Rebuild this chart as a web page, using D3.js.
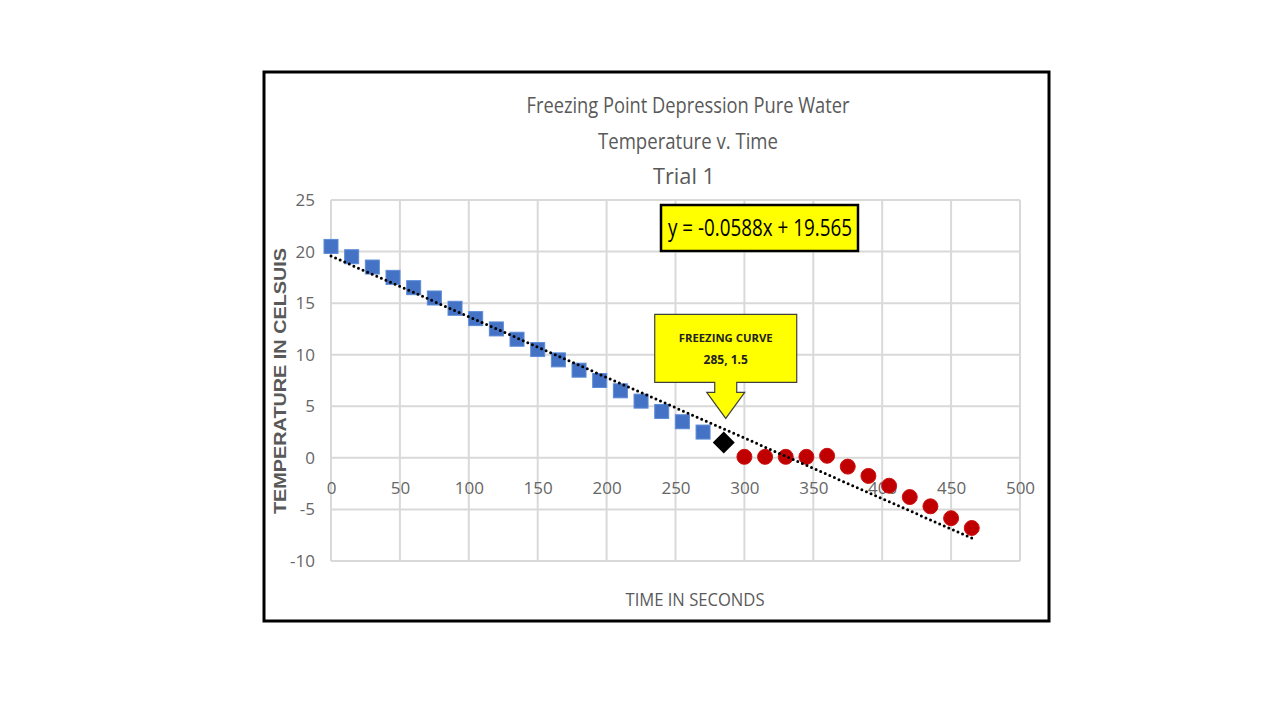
<!DOCTYPE html>
<html>
<head>
<meta charset="utf-8">
<script src="https://cdnjs.cloudflare.com/ajax/libs/d3/7.8.5/d3.min.js"></script>
<style>
  body { margin: 0; background: #fff; }
  svg { display: block; }
  .narrow { font-family: "Liberation Sans Narrow", "Open Sans", "DejaVu Sans Condensed", sans-serif; }
</style>
</head>
<body>
<div id="chart"></div>
<script>
// cooling data, one reading every 15 s
const liquidTimes = [0, 15, 30, 45, 60, 75, 90, 105, 120, 135, 150, 165, 180, 195, 210, 225, 240, 255, 270];
const liquidTemps = [20.5, 19.5, 18.5, 17.5, 16.5, 15.5, 14.5, 13.5, 12.5, 11.5, 10.5, 9.5, 8.5, 7.5, 6.5, 5.5, 4.5, 3.5, 2.5];
const freezeTime = [285];
const freezeTemp = [1.5];
const solidTimes = [300, 315, 330, 345, 360, 375, 390, 405, 420, 435, 450, 465];
const solidTemps = [0.1, 0.1, 0.1, 0.1, 0.2, -0.85, -1.75, -2.7, -3.8, -4.7, -5.85, -6.8];
const trendSlope = -0.0588;
const trendIntercept = 19.565;
const xTicks = [0, 50, 100, 150, 200, 250, 300, 350, 400, 450, 500];
const yTicks = [-10, -5, 0, 5, 10, 15, 20, 25];
const titleLines = ["Freezing Point Depression Pure Water", "Temperature v. Time", "Trial 1"];

const W = 1280, H = 720;
const plot = { left: 331, right: 1020, top: 200, bottom: 561 };

const svg = d3.select("#chart").append("svg")
  .attr("width", W).attr("height", H);

// chart frame
svg.append("rect")
  .attr("x", 264).attr("y", 72).attr("width", 785).attr("height", 549)
  .attr("fill", "#fff").attr("stroke", "#000").attr("stroke-width", 3);

const x = d3.scaleLinear().domain([0, 500]).range([plot.left, plot.right]);
const y = d3.scaleLinear().domain([-10, 25]).range([plot.bottom, plot.top]);

// gridlines
svg.append("g").selectAll("line").data(xTicks).join("line")
  .attr("x1", d => x(d)).attr("x2", d => x(d))
  .attr("y1", plot.top).attr("y2", plot.bottom)
  .attr("stroke", "#d9d9d9").attr("stroke-width", 2);
svg.append("g").selectAll("line").data(yTicks).join("line")
  .attr("x1", plot.left).attr("x2", plot.right)
  .attr("y1", d => y(d)).attr("y2", d => y(d))
  .attr("stroke", "#d9d9d9").attr("stroke-width", 2);

// tick labels (x labels sit just under the zero line, Excel style)
const yAxis = svg.append("g").attr("transform", `translate(${plot.left},0)`)
  .call(d3.axisLeft(y).tickValues(yTicks).tickFormat(d => String(d)).tickSize(0).tickPadding(16));
yAxis.select(".domain").remove();
yAxis.selectAll("text").attr("class", "narrow").attr("font-size", 17).attr("fill", "#666");

const xAxis = svg.append("g").attr("transform", `translate(0,${y(0)})`)
  .call(d3.axisBottom(x).tickValues(xTicks).tickFormat(d => String(d)).tickSize(0).tickPadding(24));
xAxis.select(".domain").remove();
xAxis.selectAll("text").attr("class", "narrow").attr("font-size", 17).attr("fill", "#666");

// title
svg.append("g").selectAll("text").data(titleLines).join("text")
  .attr("class", "narrow")
  .attr("x", (d, i) => [688, 688, 684][i]).attr("y", (d, i) => 113 + i * 35.5)
  .attr("text-anchor", "middle")
  .attr("font-size", 22).attr("fill", "#595959")
  .attr("textLength", (d, i) => [323, 180, 62][i])
  .attr("lengthAdjust", "spacingAndGlyphs")
  .text(d => d);

// axis titles
svg.append("text").attr("class", "narrow")
  .attr("x", 695).attr("y", 606).attr("text-anchor", "middle")
  .attr("font-size", 18).attr("fill", "#595959")
  .attr("textLength", 139).attr("lengthAdjust", "spacingAndGlyphs")
  .text("TIME IN SECONDS");

svg.append("text")
  .attr("transform", "translate(286,381) rotate(-90)")
  .attr("text-anchor", "middle")
  .attr("font-family", "'Liberation Sans', Arial, sans-serif")
  .attr("font-weight", "bold").attr("font-size", 17).attr("fill", "#595959")
  .attr("textLength", 266).attr("lengthAdjust", "spacingAndGlyphs")
  .text("TEMPERATURE IN CELSUIS");

// markers
const liquid = liquidTimes.map((t, i) => ({ t, v: liquidTemps[i] }));
const solid = solidTimes.map((t, i) => ({ t, v: solidTemps[i] }));
const freeze = freezeTime.map((t, i) => ({ t, v: freezeTemp[i] }));

svg.append("g").selectAll("rect").data(liquid).join("rect")
  .attr("x", d => x(d.t) - 7).attr("y", d => y(d.v) - 7)
  .attr("width", 14).attr("height", 14)
  .attr("fill", "#4472c4").attr("stroke", "#5b8bd8").attr("stroke-width", 1);

svg.append("g").selectAll("circle").data(solid).join("circle")
  .attr("cx", d => x(d.t)).attr("cy", d => y(d.v)).attr("r", 7.5)
  .attr("fill", "#c00000").attr("stroke", "#d01010").attr("stroke-width", 1);

svg.append("g").selectAll("path").data(freeze).join("path")
  .attr("transform", d => `translate(${x(d.t)},${y(d.v)})`)
  .attr("d", "M0,-11 L11,0 L0,11 L-11,0 Z")
  .attr("fill", "#000");

// linear trendline over data range
const allT = liquidTimes.concat(freezeTime, solidTimes);
const tExt = d3.extent(allT);
svg.append("line")
  .attr("x1", x(tExt[0])).attr("y1", y(trendIntercept + trendSlope * tExt[0]))
  .attr("x2", x(tExt[1])).attr("y2", y(trendIntercept + trendSlope * tExt[1]))
  .attr("stroke", "#000").attr("stroke-width", 3)
  .attr("stroke-dasharray", "0,5").attr("stroke-linecap", "round");

// equation label
svg.append("rect")
  .attr("x", 661).attr("y", 205).attr("width", 197).attr("height", 46)
  .attr("fill", "#ffff00").attr("stroke", "#000").attr("stroke-width", 2.5);
svg.append("text").attr("class", "narrow")
  .attr("x", 760).attr("y", 236).attr("text-anchor", "middle")
  .attr("font-size", 23).attr("fill", "#000")
  .attr("textLength", 184).attr("lengthAdjust", "spacingAndGlyphs")
  .text(`y = ${trendSlope}x + ${trendIntercept}`);

// callout pointing at the freezing point
const fx = x(freezeTime[0]) + 2, fy = y(freezeTemp[0]);
const tipY = fy - 24;
const boxBottom = tipY - 36, boxTop = boxBottom - 68;
const callout = d3.path();
callout.moveTo(fx - 71, boxTop);
callout.lineTo(fx + 71, boxTop);
callout.lineTo(fx + 71, boxBottom);
callout.lineTo(fx + 11, boxBottom);
callout.lineTo(fx + 11, boxBottom + 10);
callout.lineTo(fx + 19, boxBottom + 10);
callout.lineTo(fx, tipY);
callout.lineTo(fx - 19, boxBottom + 10);
callout.lineTo(fx - 11, boxBottom + 10);
callout.lineTo(fx - 11, boxBottom);
callout.lineTo(fx - 71, boxBottom);
callout.closePath();
svg.append("path").attr("d", callout.toString())
  .attr("fill", "#ffff00").attr("stroke", "#404040").attr("stroke-width", 1.2);

svg.append("text")
  .attr("x", fx).attr("y", boxTop + 28).attr("text-anchor", "middle")
  .attr("font-family", "'Liberation Sans Narrow', 'Open Sans', sans-serif")
  .attr("font-weight", "bold").attr("font-size", 11).attr("fill", "#222")
  .attr("textLength", 94).attr("lengthAdjust", "spacingAndGlyphs")
  .text("FREEZING CURVE");
svg.append("text")
  .attr("x", fx).attr("y", boxTop + 50).attr("text-anchor", "middle")
  .attr("font-family", "'Liberation Sans Narrow', 'Open Sans', sans-serif")
  .attr("font-weight", "bold").attr("font-size", 12).attr("fill", "#222")
  .text(`${freezeTime[0]}, ${freezeTemp[0]}`);
</script>
</body>
</html>
